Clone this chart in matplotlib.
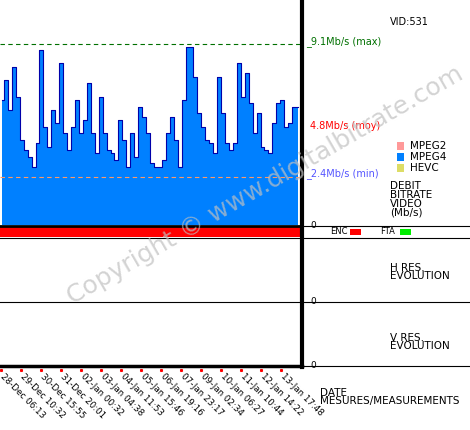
import matplotlib
matplotlib.use("Agg")
import matplotlib.pyplot as plt
import numpy as np

bitrate = [6.28, 7.29, 5.78, 7.96, 6.45, 4.27, 3.77, 3.43, 2.93, 4.10, 8.79, 4.94, 3.94, 5.78, 5.11,
           8.12, 4.61, 3.77, 4.94, 6.28, 4.61, 5.28, 7.12, 4.61, 3.60, 6.45, 4.61, 3.77, 3.60, 3.27,
           5.28, 4.27, 2.93, 4.61, 3.43, 5.95, 5.44, 4.61, 3.10, 2.93, 2.93, 3.27, 4.61, 5.44, 4.27,
           2.93, 6.28, 8.96, 8.96, 7.45, 5.61, 4.94, 4.27, 4.10, 3.60, 7.45, 5.61, 4.10, 3.77, 4.10,
           8.12, 6.45, 7.62, 6.11, 4.61, 5.61, 3.94, 3.77, 3.60, 5.11, 6.11, 6.28, 4.94, 5.11, 5.95, 5.95]
date_labels = ["28-Dec 06:13", "29-Dec 10:32", "30-Dec 15:55", "31-Dec 20:01", "02-Jan 00:32",
               "03-Jan 04:38", "04-Jan 11:53", "05-Jan 15:46", "06-Jan 19:16", "07-Jan 23:17",
               "09-Jan 02:34", "10-Jan 06:27", "11-Jan 10:44", "12-Jan 14:22", "13-Jan 17:48"]
max_rate, avg_rate, min_rate = 9.1, 4.8, 2.4

W, H = 470, 430
fig = plt.figure(figsize=(W/100, H/100), dpi=100)
def box(x0, y0, x1, y1):
    return [x0/W, 1-y1/H, (x1-x0)/W, (y1-y0)/H]

ax = fig.add_axes(box(0, 0, 300, 225))
ax.set_facecolor("#dcdcdc")
n = len(bitrate)
x = np.arange(n)
ax.fill_between(x, 0, bitrate, step="mid", color="#0080ff", lw=0)
ax.step(x, bitrate, where="mid", color="#0000aa", lw=0.8)
ax.set_xlim(-0.5, n-0.5)
ax.set_ylim(0, 225/(181/max_rate))
ax.axhline(max_rate, color="#007000", ls=(0, (4, 3)), lw=0.8)
ax.axhline(min_rate, color="#ff9966", ls=(0, (4, 3)), lw=0.8)
ax.axis("off")

o = fig.add_axes([0, 0, 1, 1])
o.set_xlim(0, W); o.set_ylim(H, 0); o.axis("off")
o.add_patch(plt.Rectangle((0, 227), 300, 10, color="red", lw=0))
o.plot([0, 302], [226, 226], color="black", lw=2)
o.plot([302, 470], [226, 226], color="black", lw=0.8)
o.plot([0, 470], [237.5, 237.5], color="black", lw=0.8)
o.plot([0, 470], [302, 302], color="black", lw=0.8)
o.plot([0, 302], [366, 366], color="black", lw=2.5)
o.plot([302, 470], [366, 366], color="black", lw=0.8)
o.plot([302, 302], [0, 367], color="black", lw=3)
for yy in (226, 302, 366):
    o.text(310, yy, "0", fontsize=6.5, va="center", ha="left")
fs = 7
o.text(306, 42, "_9.1Mb/s (max)", color="#007000", fontsize=fs, va="center")
o.text(310, 126, "4.8Mb/s (moy)", color="red", fontsize=fs, va="center")
o.text(306, 174, "_2.4Mb/s (min)", color="#5555ff", fontsize=fs, va="center")
o.text(390, 22, "VID:531", fontsize=fs, va="center")
for i, (lab, c) in enumerate([("MPEG2", "#ff9999"), ("MPEG4", "#0080ff"), ("HEVC", "#dddd66")]):
    yy = 146 + i*11
    o.add_patch(plt.Rectangle((397, yy-4), 7, 8, color=c, lw=0))
    o.text(410, yy, lab, fontsize=7.5, va="center")
o.text(390, 181, "DEBIT\nBITRATE\nVIDEO\n(Mb/s)", fontsize=7.5, va="top", linespacing=0.85)
o.text(330, 232, "ENC", fontsize=6, va="center")
o.add_patch(plt.Rectangle((350, 229), 11, 6, color="red", lw=0))
o.text(380, 232, "FTA", fontsize=6, va="center")
o.add_patch(plt.Rectangle((400, 229), 11, 6, color="#00ee00", lw=0))
o.text(390, 272, "H RES.\nEVOLUTION", fontsize=7.5, va="center", linespacing=0.85)
o.text(390, 342, "V RES.\nEVOLUTION", fontsize=7.5, va="center", linespacing=0.85)
o.text(320, 397, "DATE\nMESURES/MEASUREMENTS", fontsize=7.5, va="center", linespacing=0.85)
for i, lab in enumerate(date_labels):
    xx = i*20 + 1
    o.plot([xx], [370], marker="s", ms=1.2, color="red")
    o.text(xx + 4, 372, lab, fontsize=6.3, rotation=-45, rotation_mode="anchor", ha="left", va="top")
o.text(265, 185, "Copyright © www.digitalbitrate.com", fontsize=18, color="#c0c0c0", alpha=0.7,
       rotation=30, ha="center", va="center")
fig.savefig("out.png", dpi=100)
